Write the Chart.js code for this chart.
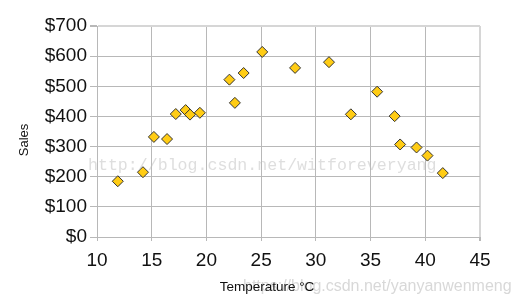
<!DOCTYPE html>
<html>
<head>
<meta charset="utf-8">
<script src="https://cdn.jsdelivr.net/npm/chart.js@4"></script>
<style>
html,body{margin:0;padding:0;background:#fff;}
#wrap{width:519px;height:300px;}
</style>
</head>
<body>
<div id="wrap"><canvas id="c" width="519" height="300"></canvas></div>
<script>
const temperatures = [11.9,14.2,15.2,16.4,17.2,18.1,18.5,19.4,22.1,22.6,23.4,25.1,28.1,31.2,33.2,35.6,37.2,37.7,39.2,40.2,41.6];
const sales = [185,215,332,325,408,421,406,412,522,445,544,614,561,580,407,482,401,307,297,270,212];
const xTitle = 'Temperature °C';
const yTitle = 'Sales';
const watermark1 = 'http://blog.csdn.net/witforeveryang';
const watermark2 = 'https://blog.csdn.net/yanyanwenmeng';

const points = temperatures.map((t,i)=>({x:t,y:sales[i]}));
const FONT = '"Liberation Sans", Arial, sans-serif';

const textPlugin = {
  id:'texts',
  afterDraw(chart){
    const ctx = chart.ctx;
    ctx.save();
    ctx.font = '16.6px "Liberation Mono", monospace';
    ctx.fillStyle = 'rgba(190,190,190,0.5)';
    ctx.textBaseline = 'middle';
    ctx.textAlign = 'left';
    ctx.fillText(watermark1, 88, 166);
    ctx.font = '16px ' + FONT;
    ctx.fillStyle = 'rgba(200,200,200,0.7)';
    ctx.fillText(watermark2, 243, 287);
    ctx.fillStyle = '#111';
    ctx.font = '13.5px ' + FONT;
    ctx.textAlign = 'center';
    ctx.fillText(xTitle, 267, 287);
    ctx.translate(24, 140);
    ctx.rotate(-Math.PI/2);
    ctx.font = '13px ' + FONT;
    ctx.fillText(yTitle, 0, 0);
    ctx.restore();
  }
};

new Chart(document.getElementById('c'), {
  type:'scatter',
  data:{datasets:[{
    data:points,
    pointStyle:'rectRot',
    pointRadius:5.5,
    pointHoverRadius:5.5,
    backgroundColor:'#ffcc14',
    borderColor:'#333333',
    borderWidth:1
  }]},
  options:{
    responsive:false,
    animation:false,
    events:[],
    layout:{padding:{top:26,right:39,left:0,bottom:0}},
    plugins:{legend:{display:false},tooltip:{enabled:false}},
    scales:{
      x:{
        type:'linear',min:10,max:45,
        ticks:{stepSize:5,color:'#111',font:{family:FONT,size:19},padding:8,maxRotation:0},
        grid:{
          color:ctx=>ctx.tick && ctx.tick.value===45?'#d6d6d6':'#b8b8b8',
          lineWidth:ctx=>ctx.tick && ctx.tick.value===45?2:1,
          tickLength:4,
          tickColor:'#b8b8b8'
        },
        border:{color:'#b8b8b8',width:1},
        afterFit(s){s.height=63;}
      },
      y:{
        min:0,max:700,
        ticks:{stepSize:100,color:'#111',font:{family:FONT,size:19},padding:3,callback:v=>'$'+v},
        grid:{
          color:ctx=>ctx.tick && ctx.tick.value===700?'#d6d6d6':'#b8b8b8',
          lineWidth:ctx=>ctx.tick && ctx.tick.value===700?2:1,
          tickLength:7,
          tickColor:'#b8b8b8'
        },
        border:{color:'#b8b8b8',width:1},
        afterFit(s){s.width=97;}
      }
    }
  },
  plugins:[textPlugin]
});
</script>
</body>
</html>
